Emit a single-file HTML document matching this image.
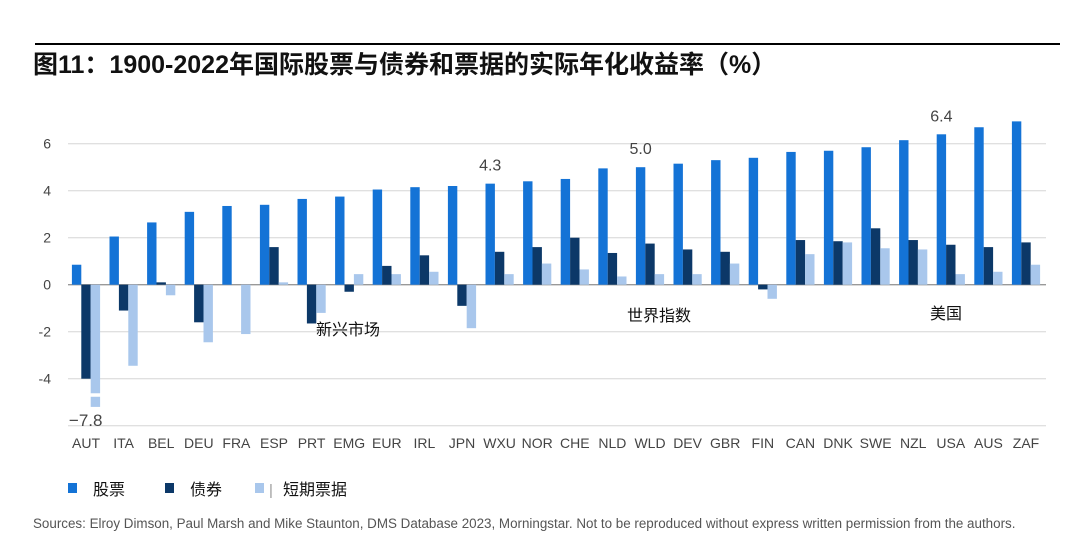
<!DOCTYPE html>
<html><head><meta charset="utf-8">
<style>
body{margin:0;background:#fff;width:1080px;height:555px;overflow:hidden;font-family:"Liberation Sans","Noto Sans CJK SC",sans-serif;}
</style></head>
<body>
<svg id="chart" width="1080" height="555" xmlns="http://www.w3.org/2000/svg">
<line x1="35" y1="44" x2="1060" y2="44" stroke="#000" stroke-width="2"/>
<text x="33" y="73" font-size="25" font-weight="600" fill="#111" font-family="'Liberation Sans','Noto Sans CJK SC',sans-serif">图11：1900-2022年国际股票与债券和票据的实际年化收益率（%）</text>
<g id="grid"></g><g id="bars"></g><g id="labels"></g>
<text x="316" y="335" font-size="16" fill="#111">新兴市场</text>
<text x="627" y="321" font-size="16" fill="#111">世界指数</text>
<text x="930" y="319" font-size="16" fill="#111">美国</text>
<g>
<rect x="68" y="483" width="9" height="10" fill="#1473d6"/>
<text x="93" y="495" font-size="16" fill="#111">股票</text>
<rect x="165" y="483" width="9" height="10" fill="#0c3868"/>
<text x="190" y="495" font-size="16" fill="#111">债券</text>
<rect x="255" y="483" width="9" height="10" fill="#a9c7ec"/>
<text x="269" y="495" font-size="15" fill="#999">|</text>
<text x="283" y="495" font-size="16" fill="#111">短期票据</text>
</g>
<text x="33" y="528" font-size="13.4" fill="#555">Sources: Elroy Dimson, Paul Marsh and Mike Staunton, DMS Database 2023, Morningstar. Not to be reproduced without express written permission from the authors.</text>
</svg>
<script>
const categories=["AUT","ITA","BEL","DEU","FRA","ESP","PRT","EMG","EUR","IRL","JPN","WXU","NOR","CHE","NLD","WLD","DEV","GBR","FIN","CAN","DNK","SWE","NZL","USA","AUS","ZAF"];
const equity=[0.85,2.05,2.65,3.1,3.35,3.4,3.65,3.75,4.05,4.15,4.2,4.3,4.4,4.5,4.95,5.0,5.15,5.3,5.4,5.65,5.7,5.85,6.15,6.4,6.7,6.95];
const bonds=[-4.0,-1.1,0.1,-1.6,0,1.6,-1.65,-0.3,0.8,1.25,-0.9,1.4,1.6,2.0,1.35,1.75,1.5,1.4,-0.2,1.9,1.85,2.4,1.9,1.7,1.6,1.8];
const bills=[-7.8,-3.45,-0.45,-2.45,-2.1,0.1,-1.2,0.45,0.45,0.55,-1.85,0.45,0.9,0.65,0.35,0.45,0.45,0.9,-0.6,1.3,1.8,1.55,1.5,0.45,0.55,0.85];
const yTicks=[6,4,2,0,-2,-4];
const callouts=[["WXU","4.3"],["WLD","5.0"],["USA","6.4"]];
const NS="http://www.w3.org/2000/svg";
const y0=284.7,unit=23.5,yMin=-5.2;
const y=v=>y0-v*unit;
const x=i=>86+i*37.6;
const bw=9.4;
function mk(tag,attrs,parent){const e=document.createElementNS(NS,tag);for(const k in attrs)e.setAttribute(k,attrs[k]);parent.appendChild(e);return e;}
const grid=document.getElementById('grid'),bars=document.getElementById('bars'),labels=document.getElementById('labels');
yTicks.forEach(t=>{
 const l=mk('line',{x1:68,x2:1046,y1:y(t),y2:y(t),stroke:t===0?'#999':'#d6d6d6','stroke-width':t===0?1.3:1},grid);
 
 
 const tx=mk('text',{x:51,y:y(t)+5,'font-size':14,fill:'#444','text-anchor':'end'},labels);
 tx.textContent=t;
 
 
});
const bl=mk('line',{x1:68,x2:1046,y1:y(-6),y2:y(-6),stroke:'#d6d6d6'},grid);


function bar(v,cx,col,name){
 let vv=Math.max(v,yMin);
 const top=Math.min(y(0),y(vv)),h=Math.abs(y(vv)-y(0));
 const r=mk('rect',{x:cx,y:top,width:bw,height:Math.max(h,0.01),fill:col},bars);
 
 
 if(v<yMin){
  const g=mk('rect',{x:cx-1,y:y(-4.62),width:bw+2,height:3.5,fill:'#fff'},bars);
  
  
  const t=mk('text',{x:cx-5,y:y(yMin)+19,'font-size':17,fill:'#444','text-anchor':'middle'},labels);
  t.textContent='\u2212'+Math.abs(v).toFixed(1);
  
  
 }
}
categories.forEach((c,i)=>{
 const cx=x(i);
 bar(equity[i],cx-bw*1.5,'#1473d6','bar-equity-'+c);
 bar(bonds[i],cx-bw*0.5,'#0c3868','bar-bond-'+c);
 bar(bills[i],cx+bw*0.5,'#a9c7ec','bar-bill-'+c);
 const t=mk('text',{x:cx,y:448,'font-size':14,fill:'#444','text-anchor':'middle'},labels);
 t.textContent=c;
 
 
});
callouts.forEach(([c,lab])=>{
 const i=categories.indexOf(c);
 const t=mk('text',{x:x(i)-bw,y:y(equity[i])-13,'font-size':16,fill:'#444','text-anchor':'middle'},labels);
 t.textContent=lab;
 
 
});
</script>
</body></html>
